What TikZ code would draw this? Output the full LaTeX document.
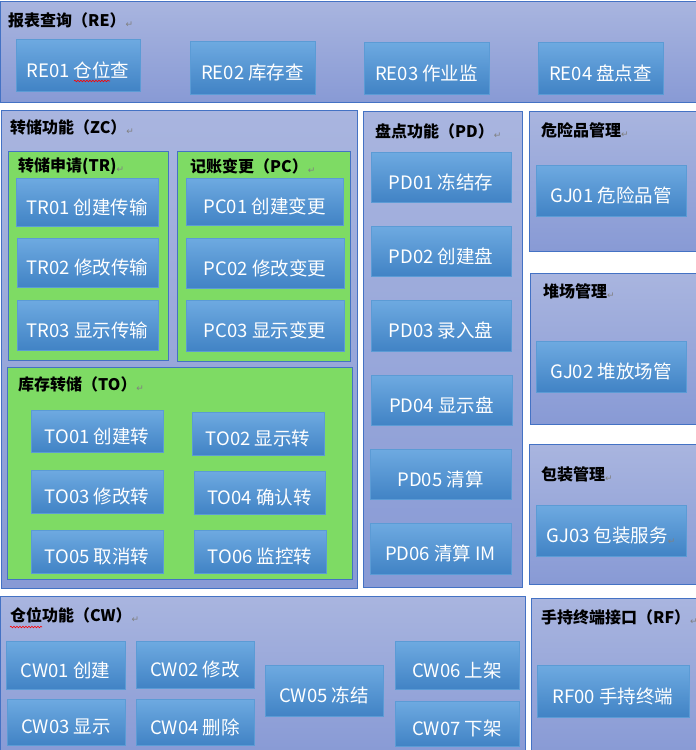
\documentclass[tikz,border=0pt]{standalone}
\usepackage{fontspec}
\usetikzlibrary{decorations.pathmorphing}
\newfontfamily\cjk{Noto Sans CJK SC}
\newfontfamily\dvs{DejaVu Sans}
\definecolor{pTop}{HTML}{A9B5DF}
\definecolor{pBot}{HTML}{889AD5}
\definecolor{pEdge}{HTML}{4472C4}
\definecolor{gFill}{HTML}{7EDB64}
\definecolor{bTop}{HTML}{6EAAE1}
\definecolor{bBot}{HTML}{4183C5}
\definecolor{bEdge}{HTML}{5B9BD5}
\definecolor{rmark}{HTML}{808080}
\newcommand\retmark{{\dvs\mdseries\fontsize{9}{10}\selectfont\raisebox{-1.5pt}{\textcolor{rmark}{↵}}}}
\tikzset{
  panel/.style={draw=pEdge, line width=0.9pt, top color=pTop, bottom color=pBot, inner sep=0pt},
  gpanel/.style={draw=pEdge, line width=0.9pt, fill=gFill, inner sep=0pt},
  bbox/.style={draw=bEdge, line width=0.8pt, top color=bTop, bottom color=bBot, inner sep=0pt,
    text=white, font=\cjk\fontsize{18.5}{21}\selectfont},
  ttl/.style={anchor=west, inner sep=0pt, font=\cjk\bfseries\fontsize{16}{18}\selectfont, text=black},
  wavy/.style={draw=red, line width=0.6pt, decorate, decoration={snake, amplitude=0.8pt, segment length=3pt}}
}
\newcommand\pnl[6]{\node[#6, minimum width={(#4-#2)*1pt}, minimum height={(#5-#3)*1pt}] (#1) at ({(#2+#4)/2},{(#3+#5)/2}) {};}
\newcommand\bxx[6]{\node[bbox, minimum width={(#4-#2)*1pt}, minimum height={(#5-#3)*1pt}] (#1) at ({(#2+#4)/2},{(#3+#5)/2}) {\raisebox{-5pt}[\height][\depth]{#6}};}
\begin{document}
\begin{tikzpicture}[x=1pt, y=-1pt]
\useasboundingbox (0,0) rectangle (696,750);
% ---- panels ----
\pnl{pRE}{0.5}{1}{700}{102}{panel}
\pnl{pZC}{1}{110}{357}{588}{panel}
\pnl{pTR}{8}{151}{168}{360}{gpanel}
\pnl{pPC}{177}{151}{350}{361}{gpanel}
\pnl{pTO}{7}{367}{352}{579}{gpanel}
\pnl{pPD}{363}{111}{522}{587}{panel}
\pnl{pGJ1}{529}{111}{700}{251}{panel}
\pnl{pGJ2}{530}{273}{700}{424}{panel}
\pnl{pGJ3}{529}{444}{700}{584}{panel}
\pnl{pCW}{0.5}{596}{525}{754}{panel}
\pnl{pRF}{531}{598}{700}{754}{panel}
% ---- titles ----
\node[ttl] (tRE) at (8,20) {报表查询（RE）\retmark};
\node[ttl] (tZC) at (10,127) {转储功能（ZC）\retmark};
\node[ttl] (tTR) at (18,166) {转储申请(TR)\retmark};
\node[ttl] (tPC) at (190,166) {记账变更（PC）\retmark};
\node[ttl] (tTO) at (18,384) {库存转储（TO）\retmark};
\node[ttl] (tPD) at (375,131) {盘点功能（PD）\retmark};
\node[ttl] (tGJ1) at (541,130) {危险品管理\retmark};
\node[ttl] (tGJ2) at (543,291) {堆场管理\retmark};
\node[ttl] (tGJ3) at (541,474) {包装管理\retmark};
\node[ttl] (tCW) at (10,615) {仓位功能（CW）\retmark};
\node[ttl] (tRF) at (541,617) {手持终端接口（RF）\retmark};
% ---- boxes ----
\bxx{RE01}{16}{39}{140}{91}{RE01 仓位查}
\bxx{RE02}{190}{41}{315}{94}{RE02 库存查}
\bxx{RE03}{364}{42}{489}{94}{RE03 作业监}
\bxx{RE04}{538}{42}{663}{94}{RE04 盘点查}
\bxx{TR01}{16}{178}{158}{226}{TR01 创建传输}
\bxx{TR02}{17}{238}{158}{287}{TR02 修改传输}
\bxx{TR03}{17}{300}{158}{350}{TR03 显示传输}
\bxx{PC01}{186}{178}{343}{225}{PC01 创建变更}
\bxx{PC02}{186}{238}{344}{288}{PC02 修改变更}
\bxx{PC03}{186}{300}{344}{351}{PC03 显示变更}
\bxx{TO01}{31}{410}{163}{452}{TO01 创建转}
\bxx{TO02}{192}{412}{324}{455}{TO02 显示转}
\bxx{TO03}{31}{470}{163}{513}{TO03 修改转}
\bxx{TO04}{194}{471}{325}{514}{TO04 确认转}
\bxx{TO05}{31}{530}{163}{573}{TO05 取消转}
\bxx{TO06}{194}{530}{326}{573}{TO06 监控转}
\bxx{PD01}{371}{152}{511}{202}{PD01 冻结存}
\bxx{PD02}{371}{226}{511}{276}{PD02 创建盘}
\bxx{PD03}{371}{300}{511}{351}{PD03 录入盘}
\bxx{PD04}{371}{375}{512}{425}{PD04 显示盘}
\bxx{PD05}{370}{449}{511}{499}{PD05 清算}
\bxx{PD06}{370}{523}{511}{574}{PD06 清算 IM}
\bxx{GJ01}{536}{165}{686}{216}{GJ01 危险品管}
\bxx{GJ02}{536}{341}{686}{392}{GJ02 堆放场管}
\bxx{GJ03}{536}{505}{686}{556}{GJ03 包装服务\retmark}
\bxx{CW01}{6}{641}{125}{689}{CW01 创建}
\bxx{CW02}{136}{641}{254}{688}{CW02 修改}
\bxx{CW03}{7}{699}{125}{745}{CW03 显示}
\bxx{CW04}{136}{699}{254}{745}{CW04 删除}
\bxx{CW05}{265}{665}{383}{716}{CW05 冻结}
\bxx{CW06}{395}{641}{519}{689}{CW06 上架}
\bxx{CW07}{395}{701}{519}{746}{CW07 下架}
\bxx{RF00}{537}{665}{689}{717}{RF00 手持终端}
% ---- spell-check marks ----
\coordinate (w1a) at (74,81);
\coordinate (w1b) at (110,81);
\coordinate (w2a) at (10,627);
\coordinate (w2b) at (42,627);
\draw[wavy] (w1a) -- (w1b);
\draw[wavy] (w2a) -- (w2b);
\end{tikzpicture}
\end{document}
